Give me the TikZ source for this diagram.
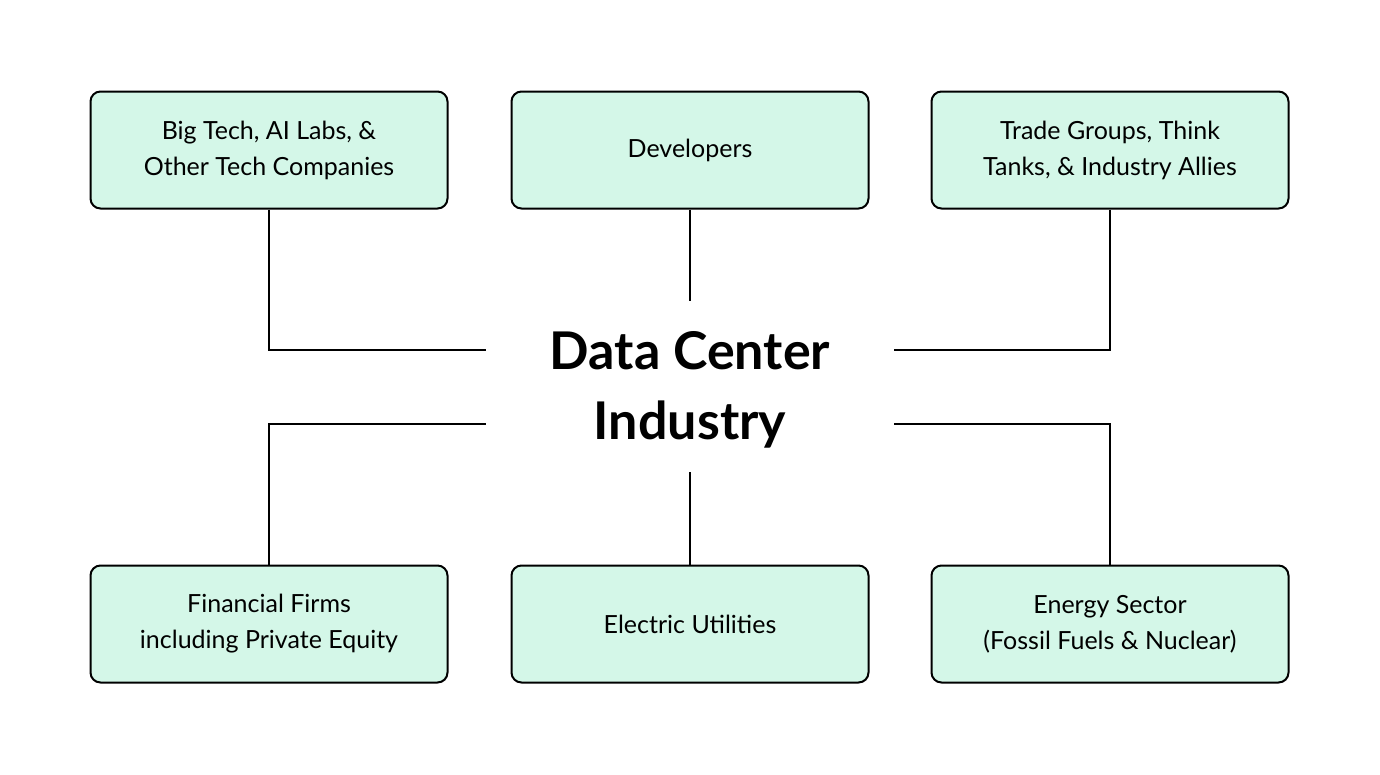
\documentclass[tikz,border=0pt]{standalone}
\usepackage{fontspec}
\setmainfont{Lato}
\begin{document}
\begin{tikzpicture}[x=1pt,y=-1pt,
  box/.style={draw=black,line width=2pt,fill={rgb,255:red,212;green,247;blue,232},rounded corners=10pt,minimum width=357pt,minimum height=117pt,align=center,font=\fontsize{25}{36}\selectfont,inner sep=0pt},
  conn/.style={line width=2.2pt,draw=black}]
\useasboundingbox (0,0) rectangle (1380,774);
\node[box] (a) at (269,150) {Big Tech, AI Labs, \&\\Other Tech Companies};
\node[box] (b) at (690,150) {Developers};
\node[box] (c) at (1110,150) {Trade Groups, Think\\Tanks, \& Industry Allies};
\node[box] (d) at (269,624) {Financial Firms\\including Private Equity};
\node[box] (e) at (690,624) {Electric Utilities};
\node[box] (f) at (1110,624) {Energy Sector\\(Fossil Fuels \& Nuclear)};
\node[align=center,font=\bfseries\fontsize{52}{70}\selectfont] (t) at (690,390) {Data Center\\Industry};
\coordinate (ta) at (486,350);
\coordinate (tb) at (690,301);
\coordinate (tc) at (894,350);
\coordinate (td) at (486,424);
\coordinate (te) at (690,472);
\coordinate (tf) at (894,424);
\draw[conn] (a.south) |- (ta);
\draw[conn] (b.south) -- (tb);
\draw[conn] (c.south) |- (tc);
\draw[conn] (d.north) |- (td);
\draw[conn] (e.north) -- (te);
\draw[conn] (f.north) |- (tf);
\end{tikzpicture}
\end{document}
